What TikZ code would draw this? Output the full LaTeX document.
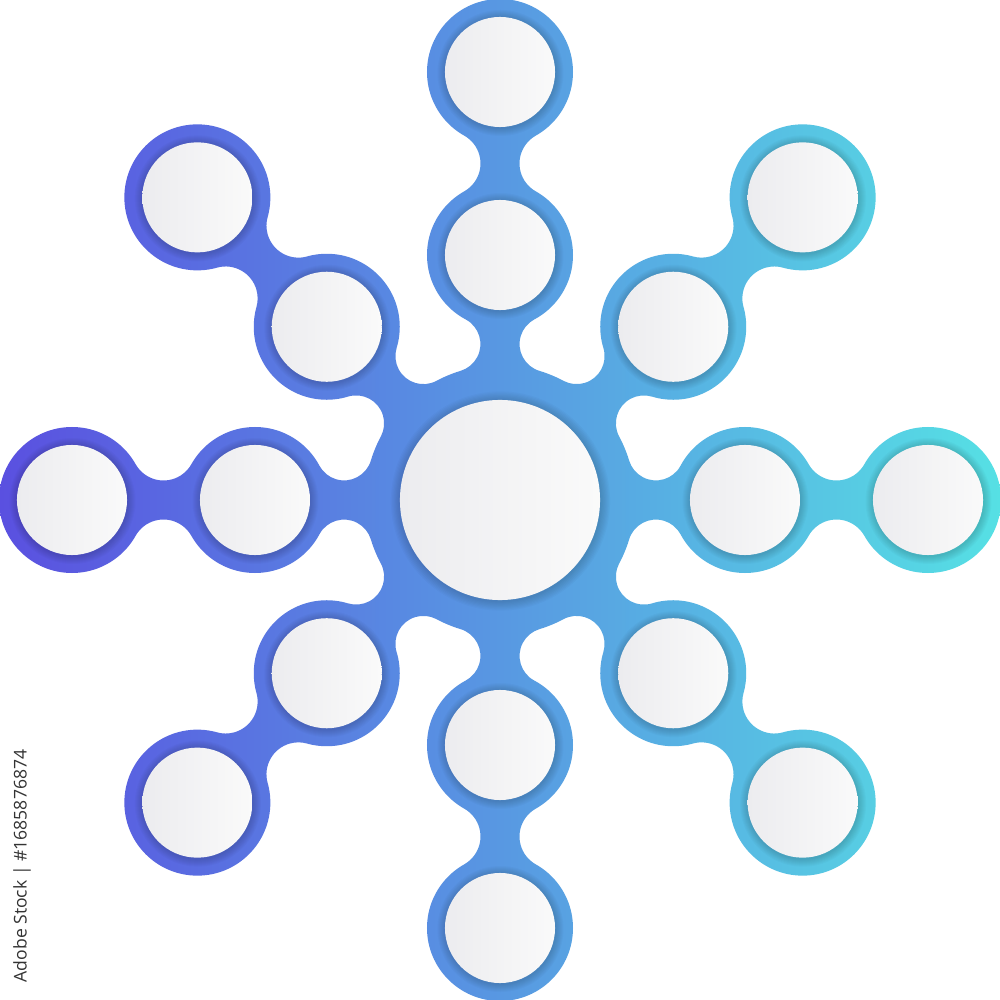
\documentclass[tikz,border=0pt]{standalone}
\usepackage{fontspec}
\newfontfamily\opensans{Open Sans}
\begin{document}
\begin{tikzpicture}[x=0.01cm,y=0.01cm,
  ring/.style={left color=cL,right color=cR},
  disc/.style={circle,left color=discA,right color=discB,inner sep=0pt},
  shadowlayer/.style={fill=black,opacity=0.02},
  stamp/.style={rotate=90,font=\opensans\fontsize{5}{6}\selectfont,text=black!80,inner sep=0pt}]
\definecolor{cL}{RGB}{90,80,224}
\definecolor{cR}{RGB}{86,224,228}
\definecolor{discA}{RGB}{236,236,239}
\definecolor{discB}{RGB}{250,250,250}
\useasboundingbox (-500,-500) rectangle (500,500);
\fill[white] (-500,-500) rectangle (500,500);
% blue body: union of hub, arm circles and filleted necks
\begin{scope}
\clip (0,0) circle[radius=135]
  \foreach \p in {0,45,...,315} {
    (\p:245) circle[radius=73]
    (\p:428) circle[radius=73]
    (\p:0) -- ++(\p-16.97:135)
      arc[start angle=\p+180-16.97, end angle=\p+28.10, radius=28]
      -- (\p:245) -- ++(\p+180-28.10:73)
      arc[start angle=\p-28.10, end angle=\p+16.97-180, radius=28] -- cycle
    (\p:245) -- ++(\p-29.37:73)
      arc[start angle=\p+180-29.37, end angle=\p+29.37, radius=32]
      -- (\p:428) -- ++(\p+180-29.37:73)
      arc[start angle=\p-29.37, end angle=\p+29.37-180, radius=32] -- cycle
  };
\shade[ring] (-500,-500) rectangle (500,500);
\end{scope}
% soft shadows under the white discs
\foreach \k in {1,...,8} {
  \fill[shadowlayer] (0.5,-1) circle[radius=100+\k*1.2];
  \foreach \p in {0,45,...,315} {
    \fill[shadowlayer,shift={(\p:245)}] (0.5,-1) circle[radius=55+\k];
    \fill[shadowlayer,shift={(\p:428)}] (0.5,-1) circle[radius=55+\k];
  }
}
% white discs
\node[disc,minimum size=2cm] (hub) at (0,0) {};
\foreach \p in {0,45,...,315} {
  \node[disc,minimum size=1.1cm] (in\p) at (\p:245) {};
  \node[disc,minimum size=1.1cm] (out\p) at (\p:428) {};
}
\node[stamp] (credit) at (-478,-366) {Adobe Stock | \#1685876874};
\end{tikzpicture}
\end{document}
